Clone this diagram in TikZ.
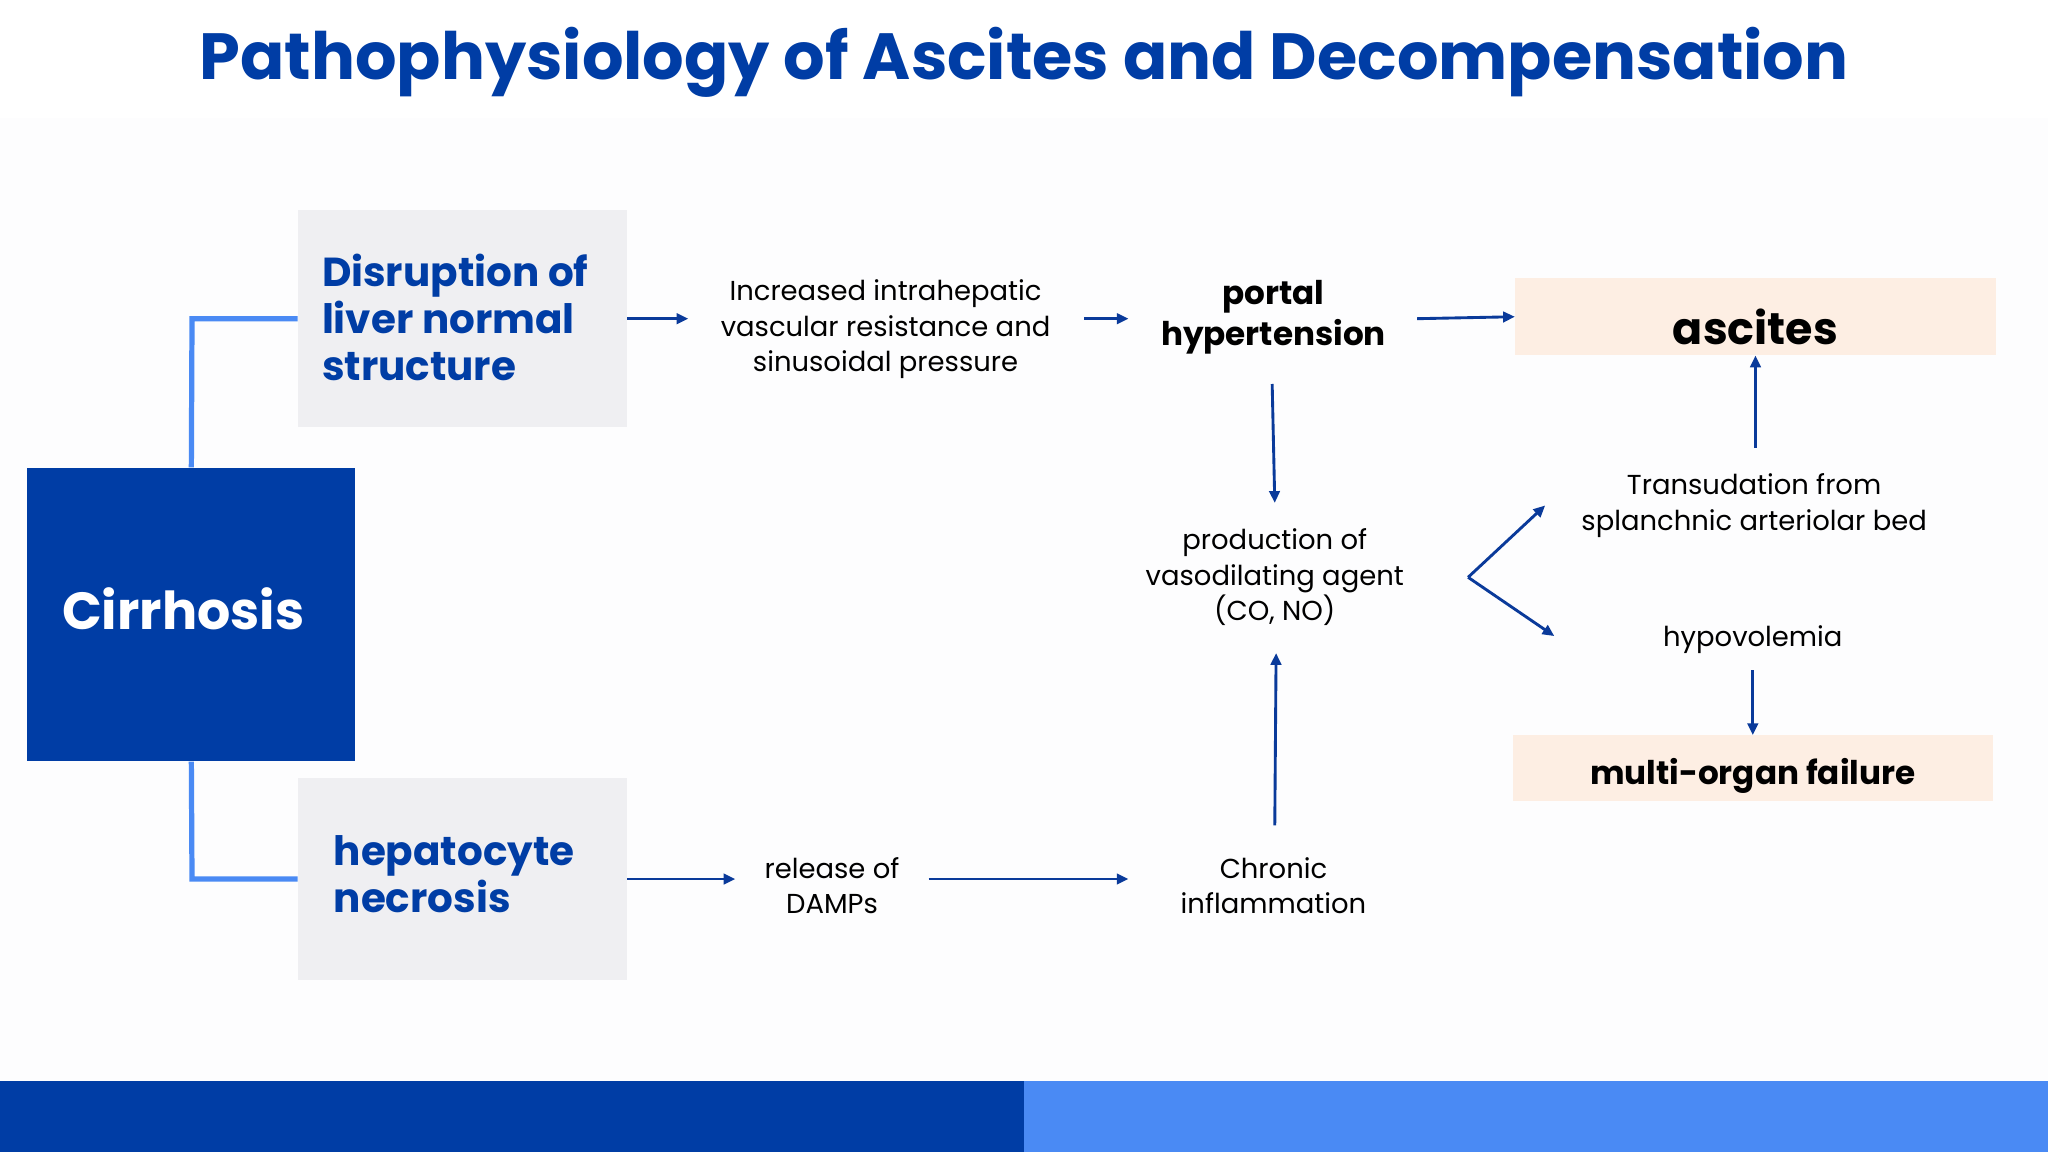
\documentclass[tikz,border=0pt]{standalone}
\usepackage{fontspec}
\setmainfont{Poppins}
\usetikzlibrary{arrows.meta}
\definecolor{dblue}{HTML}{003DA5}
\definecolor{lblue}{HTML}{4A8AF4}
\definecolor{abl}{HTML}{0A3A9A}
\definecolor{gbox}{HTML}{EFEFF2}
\definecolor{pbox}{HTML}{FDEEE3}
\definecolor{bg}{HTML}{FDFDFE}
\begin{document}
\begin{tikzpicture}[x=1pt,y=-1pt,
  arr/.style={draw=abl,line width=2.2pt,-{Triangle[length=9pt,width=8pt]}},
  conn/.style={draw=lblue,line width=4pt},
  txt/.style={align=center,font=\fontsize{21}{27}\selectfont,text=black},
  bt/.style={align=center,font=\fontsize{25}{31}\selectfont\bfseries,text=black},
  boxt/.style={align=left,font=\fontsize{31}{36}\selectfont\bfseries,text=dblue,anchor=west}]
\useasboundingbox (0,0) rectangle (1568,882);
\fill[white] (0,0) rectangle (1568,882);
\fill[bg] (0,90) rectangle (1568,828);
\fill[dblue] (0,828) rectangle (784,882);
\fill[lblue] (784,828) rectangle (1568,882);
\node[font=\fontsize{50}{60}\selectfont\bfseries,text=dblue] (title) at (784,48) {Pathophysiology of Ascites and Decompensation};
% boxes
\node[fill=dblue,minimum width=251pt,minimum height=225pt,inner sep=0] (cir) at (146.5,470.5) {};
\node[anchor=west,text=white,font=\fontsize{40}{48}\selectfont\bfseries] at (44,466) {Cirrhosis};
\node[fill=gbox,minimum width=252pt,minimum height=166pt,inner sep=0] (b1) at (354,244) {};
\node[boxt] at (243,243) {Disruption of\\liver normal\\structure};
\node[fill=gbox,minimum width=252pt,minimum height=154pt,inner sep=0] (b2) at (354,673) {};
\node[boxt] at (252,669) {hepatocyte\\necrosis};
\node[fill=pbox,minimum width=368pt,minimum height=59pt,inner sep=0] (asc) at (1344,242.5) {};
\node[font=\fontsize{34}{40}\selectfont\bfseries] at (1344,250) {ascites};
\node[fill=pbox,minimum width=368pt,minimum height=50pt,inner sep=0] (mof) at (1342,588) {};
\node[bt] at (1342,594) {multi-organ failure};
% texts
\node[txt] (inc) at (678,252) {Increased intrahepatic\\vascular resistance and\\sinusoidal pressure};
\node[bt] (ph) at (975,243) {portal\\hypertension};
\node[txt] (prod) at (976,442) {production of\\vasodilating agent\\(CO, NO)};
\node[txt] (chr) at (975,678) {Chronic\\inflammation};
\node[txt] (dam) at (637,678) {release of\\DAMPs};
\node[txt] (tra) at (1343,387) {Transudation from\\splanchnic arteriolar bed};
\node[txt] (hyp) at (1342,490) {hypovolemia};
% connectors
\draw[conn] (b1.west) -- (147,244) -- (cir.north);
\draw[conn] (cir.south) -- (147,673) -- (b2.west);
\draw[arr] (b1.east) -- (527,244);
\draw[arr] (830,244) -- (864,244);
\draw[arr] (1085,244) -- (asc.west);
\draw[arr] (974,294) -- (976,385);
\draw[arr] (976,632) -- (977,500);
\draw[arr] (b2.east) -- (563,673);
\draw[arr] (711,673) -- (864,673);
\coordinate (fork) at (1124,442);
\draw[arr] (fork) -- (1183,387);
\draw[arr] (fork) -- (1190,487);
\draw[arr] (1344,343) -- (asc.south);
\draw[arr] (1342,513) -- (mof.north);
\end{tikzpicture}
\end{document}
